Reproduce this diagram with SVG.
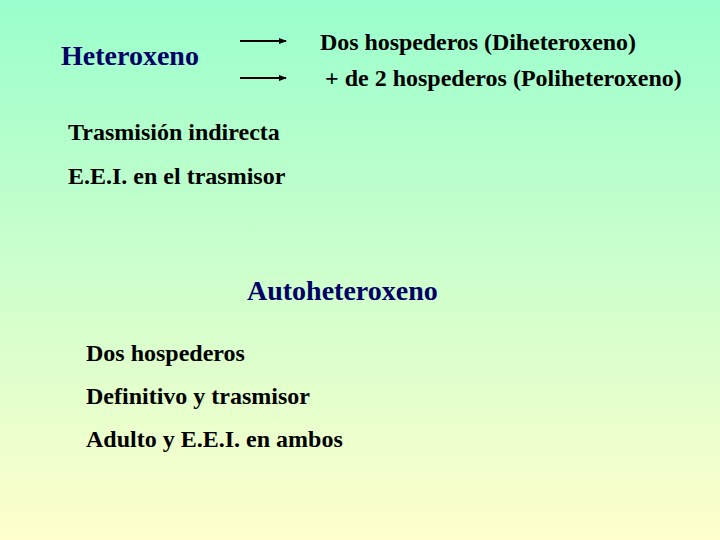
<svg xmlns="http://www.w3.org/2000/svg" width="720" height="540" viewBox="0 0 720 540">
<defs>
<linearGradient id="bg" x1="0" y1="0" x2="0" y2="1">
<stop offset="0" stop-color="#99FFCC"/>
<stop offset="1" stop-color="#FFFFCC"/>
</linearGradient>
<marker id="ah" markerWidth="8" markerHeight="6" refX="7" refY="3" orient="auto" markerUnits="userSpaceOnUse">
<path d="M0,0 L8,3 L0,6 Z" fill="#000"/>
</marker>
<style>
text{font-family:"Liberation Serif","Times New Roman",serif;font-weight:bold;font-size:24px;fill:#000}
.title{font-size:28px;fill:#000066}
.arrow{stroke:#000;stroke-width:2;fill:none;marker-end:url(#ah)}
</style>
</defs>
<rect x="0" y="0" width="720" height="540" fill="url(#bg)"/>
<g id="connectors">
<line class="arrow" x1="240" y1="41" x2="286" y2="41"/>
<line class="arrow" x1="240" y1="78" x2="286" y2="78"/>
</g>
<g id="heteroxeno"><text class="title" x="61" y="65">Heteroxeno</text></g>
<g id="diheteroxeno"><text x="320" y="50" textLength="316" lengthAdjust="spacing">Dos hospederos (Diheteroxeno)</text></g>
<g id="poliheteroxeno"><text x="325" y="86">+ de 2 hospederos (Poliheteroxeno)</text></g>
<g id="trasmision"><text x="68" y="140">Trasmisión indirecta</text></g>
<g id="eei"><text x="68" y="184">E.E.I. en el trasmisor</text></g>
<g id="autoheteroxeno"><text class="title" x="247" y="300">Autoheteroxeno</text></g>
<g id="dos"><text x="86" y="361">Dos hospederos</text></g>
<g id="definitivo"><text x="86" y="404">Definitivo y trasmisor</text></g>
<g id="adulto"><text x="86" y="447">Adulto y E.E.I. en ambos</text></g>
</svg>
